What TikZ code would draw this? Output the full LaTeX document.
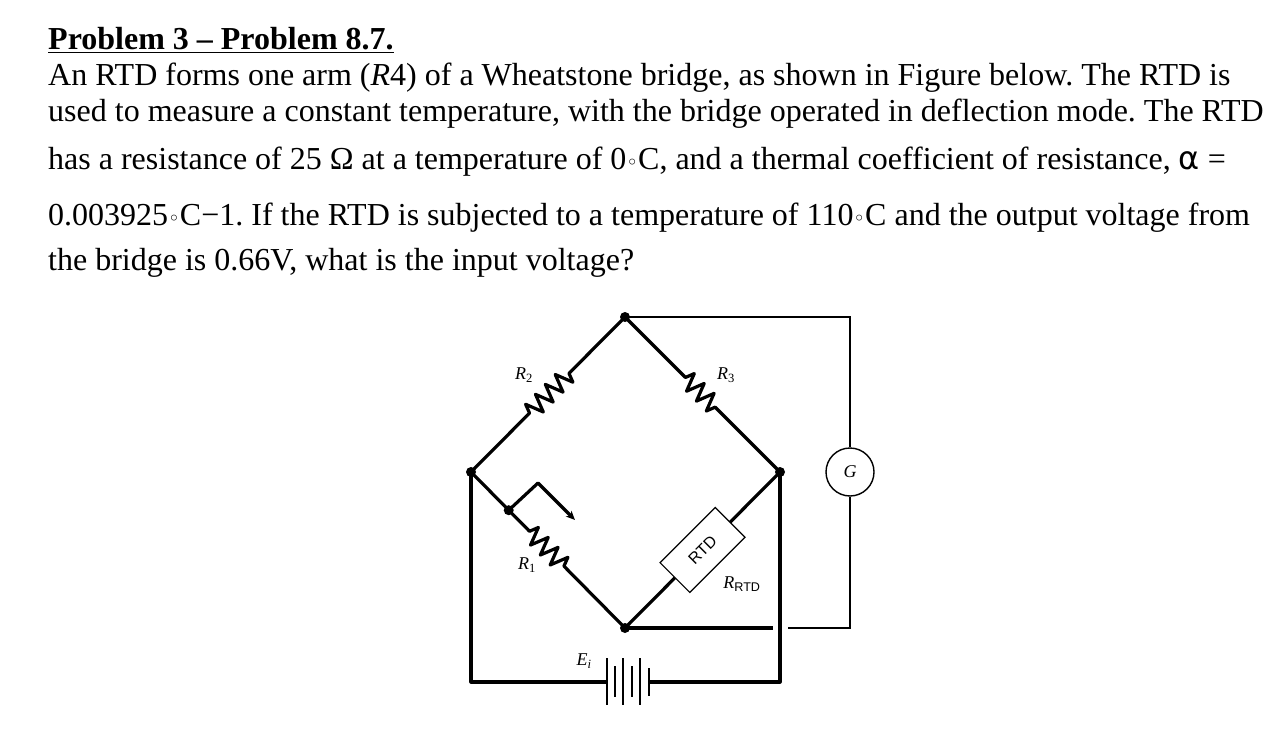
\documentclass[tikz,border=0pt]{standalone}
\usepackage{fontspec}
\setmainfont{Liberation Serif}
\newfontfamily\djv{DejaVu Sans}
\setsansfont{Liberation Sans}
\usetikzlibrary{calc,decorations.pathmorphing,arrows.meta}
\frenchspacing
\begin{document}
\begin{tikzpicture}[x=1pt,y=-1pt,
  txt/.style={anchor=base west,inner sep=0pt,font=\fontsize{32}{36}\selectfont},
  wire/.style={line width=3.2pt,line join=round},
  thin wire/.style={line width=2.4pt},
  zz/.style={decorate,decoration={zigzag,amplitude=9pt,segment length=14pt}},
  lab/.style={font=\fontsize{18}{20}\selectfont,inner sep=0pt},
  dot/.style={circle,fill=black,inner sep=0pt,minimum size=10pt}]
\useasboundingbox (0,0) rectangle (1284,754);
% text
\node[txt] (t0) at (48,50) {\textbf{\underline{Problem 3 – Problem 8.7.}}};
\node[txt] (t1) at (48,86) {An RTD forms one arm (\textit{R}4) of a Wheatstone bridge, as shown in Figure below. The RTD is};
\node[txt] (t2) at (48,122) {used to measure a constant temperature, with the bridge operated in deflection mode. The RTD};
\node[txt] (t3) at (48,170) {has a resistance of 25 Ω at a temperature of 0{\djv\fontsize{20}{22}\selectfont ◦}C, and a thermal coefficient of resistance, {\djv α} =};
\node[txt] (t4) at (48,225) {0.003925{\djv\fontsize{20}{22}\selectfont ◦}C−1. If the RTD is subjected to a temperature of 110{\djv\fontsize{20}{22}\selectfont ◦}C and the output voltage from};
\node[txt] (t5) at (48,270) {the bridge is 0.66V, what is the input voltage?};
% circuit nodes
\coordinate (T) at (625,317);
\coordinate (L) at (471,472);
\coordinate (R) at (780,472);
\coordinate (B) at (625,628);
\coordinate (J) at ($(L)!.245!(B)$);
% arms
\draw[wire] (L) -- ($(L)!.38!(T)$) decorate[zz]{-- ($(L)!.64!(T)$)} -- (T);
\draw[wire] (T) -- ($(T)!.39!(R)$) decorate[zz]{-- ($(T)!.61!(R)$)} -- (R);
\draw[wire] (L) -- ($(L)!.38!(B)$) decorate[zz]{-- ($(L)!.61!(B)$)} -- (B);
\draw[wire] (B) -- ($(B)!.33!(R)$) ($(B)!.67!(R)$) -- (R);
\node[draw,line width=1.2pt,fill=white,minimum width=78pt,minimum height=42pt,rotate=45,
  font=\sffamily\fontsize{16}{18}\selectfont] (rtd) at ($(B)!.5!(R)$) {RTD};
% rheostat
\coordinate (P1) at (538,483);
\coordinate (P2) at (571,516);
\draw[wire] (J) -- (P1) -- (P2);
\draw[line width=1.6pt,-{Stealth[length=9pt,width=8pt]}] (P1) -- ($(P1)!1.12!(P2)$);
% outer wires
\coordinate (TR) at (850,317);
\coordinate (BR) at (850,628);
\coordinate (g1) at (773,628);
\coordinate (g2) at (788,628);
\node[draw,circle,line width=1.4pt,minimum size=48pt,inner sep=0pt,font=\itshape\fontsize{18}{20}\selectfont] (G) at (850,472) {G};
\draw[thin wire] (T) -- (TR) -- (G.north);
\draw[thin wire] (G.south) -- (BR) -- (g2);
\draw[wire] (B) -- (g1);
\coordinate (LB) at (471,682);
\coordinate (RB) at (780,682);
\coordinate (b1) at (607,682);
\coordinate (b2) at (649,682);
\draw[wire] (L) -- (LB) -- (b1);
\draw[wire] (R) -- (RB) -- (b2);
% battery
\draw[line width=2pt] (607,658) -- (607,705) (623,658) -- (623,705) (640,658) -- (640,705)
  (615,666) -- (615,697) (632,666) -- (632,697) (649,668) -- (649,696);
% dots
\foreach \p in {T,L,R,B,J} \node[dot] at (\p) {};
% labels
\node[lab] (lR2) at (524,375) {\textit{R}\textsubscript{2}};
\node[lab] (lR3) at (726,375) {\textit{R}\textsubscript{3}};
\node[lab] (lR1) at (527,565) {\textit{R}\textsubscript{1}};
\node[lab] (lRT) at (742,584) {\textit{R}\textsubscript{\sffamily RTD}};
\node[lab] (lE) at (584,661) {\textit{E}\textsubscript{\textit{i}}};
\end{tikzpicture}
\end{document}
